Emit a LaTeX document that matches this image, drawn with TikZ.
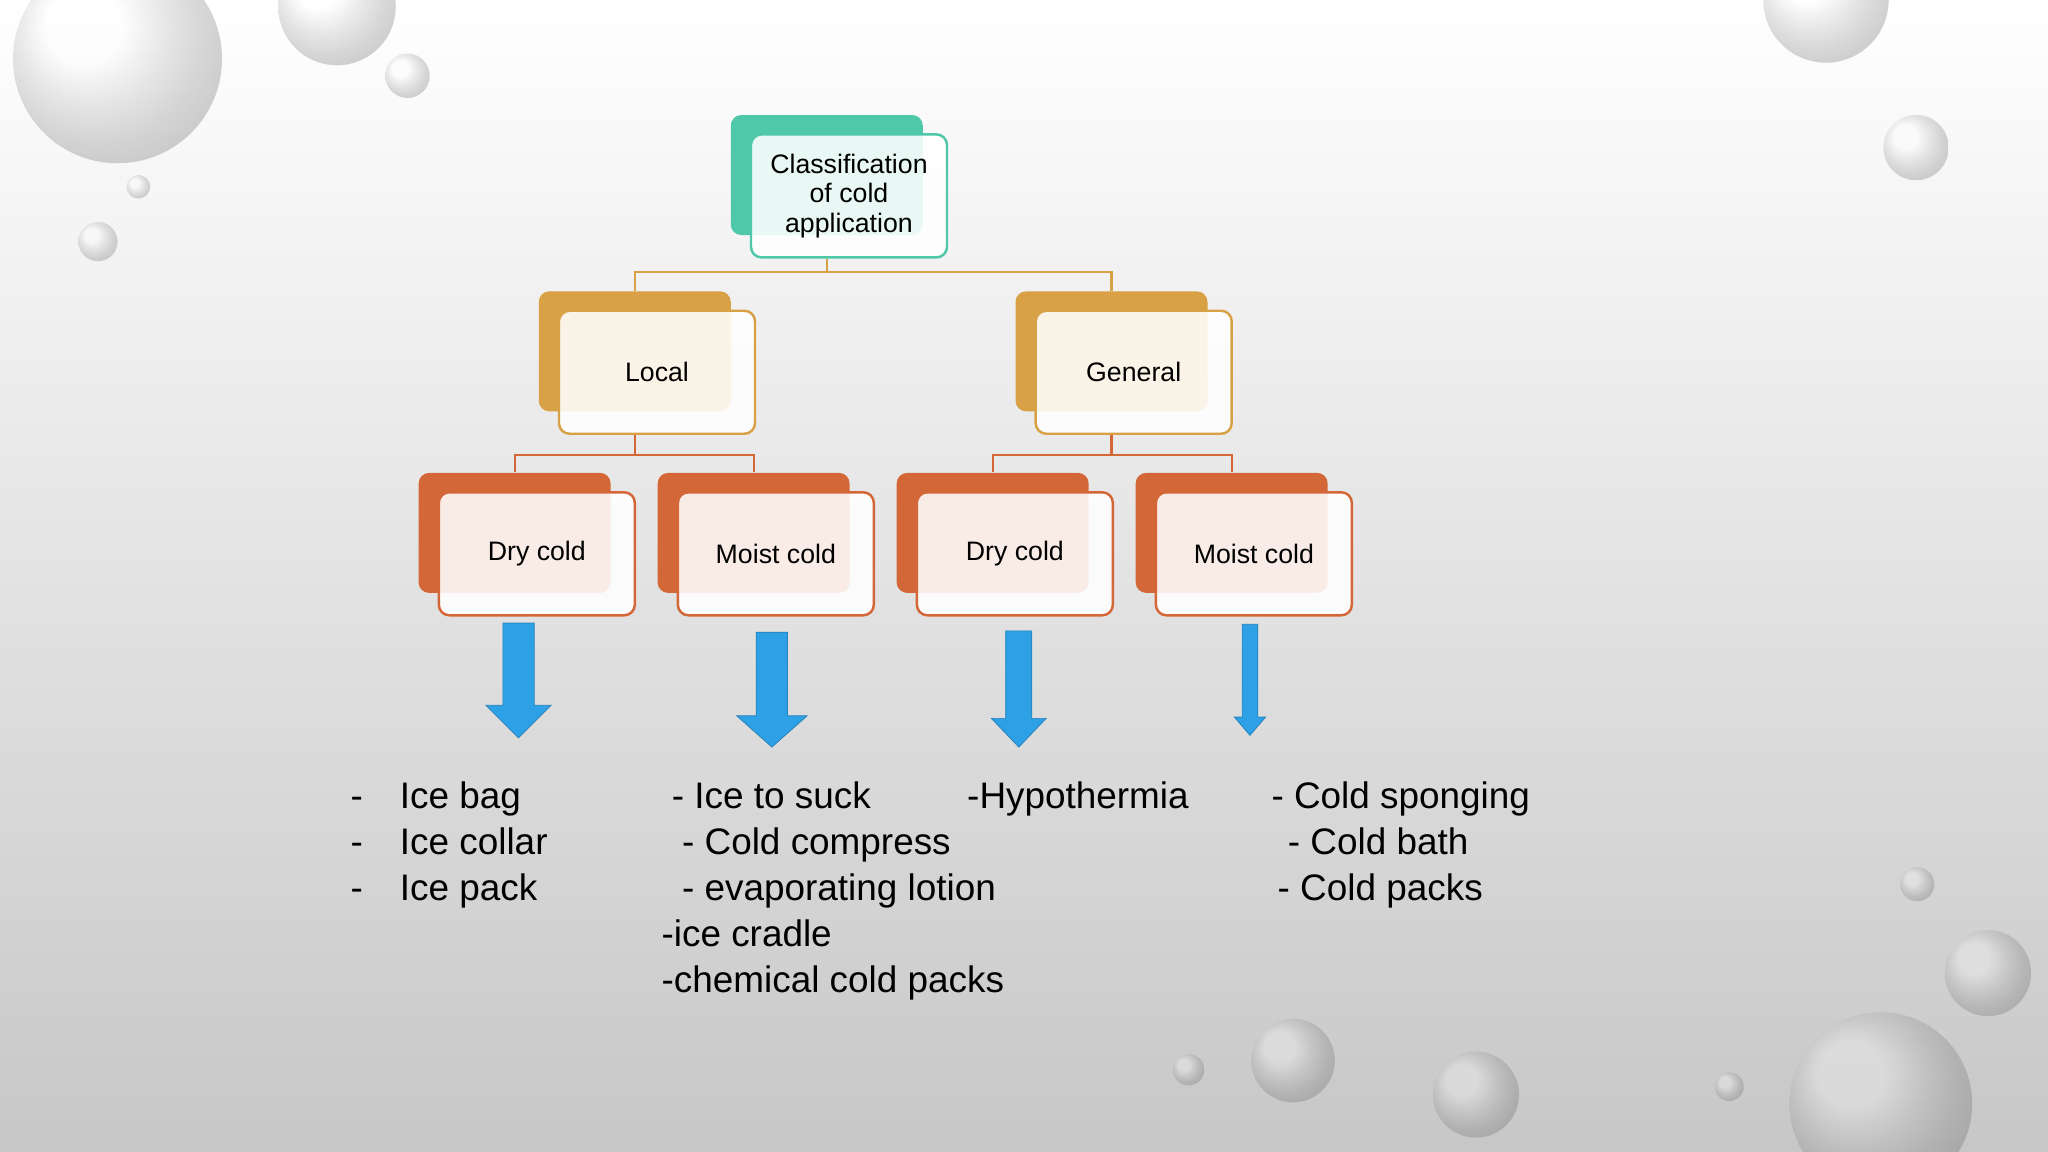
\documentclass[tikz,border=0pt]{standalone}
\usepackage{fontspec}
\setmainfont{Liberation Sans}
\definecolor{teal1}{RGB}{78,200,168}
\definecolor{gold1}{RGB}{216,161,70}
\definecolor{rust1}{RGB}{212,103,55}
\definecolor{arrowblue}{RGB}{45,160,230}
\tikzstyle{back} = [rectangle, rounded corners=3pt, minimum width=1.92cm, minimum height=1.2cm]
\tikzstyle{front} = [rectangle, rounded corners=3pt, minimum width=1.96cm, minimum height=1.23cm, align=center, fill=white, fill opacity=0.88, text opacity=1, line width=0.7pt, font=\fontsize{7.6}{8.4}\selectfont]
\tikzstyle{link} = [line width=0.6pt]
\tikzstyle{down} = [fill=arrowblue, draw=arrowblue!80!black, line width=0.2pt]
\tikzstyle{list} = [anchor=north west, align=left, font=\fontsize{10.5}{13.1}\selectfont, inner sep=0pt]
\begin{document}
\begin{tikzpicture}[x=0.013061cm, y=-0.013061cm]
\shade[top color=white, bottom color=black!22] (0,0) rectangle (1568,882);
\useasboundingbox (0,0) rectangle (1568,882);
% droplets
\foreach \dx/\dy/\dr in {90/45/80, 258/5/45, 312/58/17, 106/143/9, 75/185/15, 1398/0/48, 1467/113/25, 1468/677/13, 1522/745/33, 1440/845/70, 990/812/32, 1130/838/33, 910/819/12, 1324/832/11}
  \shade[ball color=white, opacity=0.3] (\dx,\dy) circle (\dr);

% boxes
\node (rootB) [back, fill=teal1] at (633,134) {};
\node (root) [front, draw=teal1] at (650,150) {Classification\\of cold\\application};
\node (localB) [back, fill=gold1] at (486,269) {};
\node (local) [front, draw=gold1] at (503,285) {Local};
\node (genB) [back, fill=gold1] at (851,269) {};
\node (gen) [front, draw=gold1] at (868,285) {General};
\foreach \nm/\cx/\txt in {ldry/394/Dry cold, lmoist/577/Moist cold, gdry/760/Dry cold, gmoist/943/Moist cold}{
  \node (\nm B) [back, fill=rust1] at (\cx,408) {};
  \node (\nm) [front, draw=rust1] at (\cx+17,424) {\txt};
}

% connectors
\draw [link, gold1] (rootB.south |- root.south) -- ++(0,10) -| (localB.north);
\draw [link, gold1] (rootB.south |- root.south) -- ++(0,10) -| (genB.north);
\draw [link, rust1] (localB.south |- local.south) -- ++(0,15) -| (ldryB.north);
\draw [link, rust1] (localB.south |- local.south) -- ++(0,15) -| (lmoistB.north);
\draw [link, rust1] (genB.south |- gen.south) -- ++(0,15) -| (gdryB.north);
\draw [link, rust1] (genB.south |- gen.south) -- ++(0,15) -| (gmoistB.north);

% arrows: x/top/shaft half/neck/head half/tip
\foreach \ax/\at/\aw/\an/\ah/\ap in {397/477/12/540/25/565, 591/484/12/548/27/572, 780/483/10/550/21/572, 957/478/6/549/12/563}
  \draw [down] (\ax-\aw,\at) -- (\ax+\aw,\at) -- (\ax+\aw,\an) -- (\ax+\ah,\an) -- (\ax,\ap) -- (\ax-\ah,\an) -- (\ax-\aw,\an) -- cycle;

% lists
\node (t1) [list] at (268,598) {-\hspace{1.0em}Ice bag\\-\hspace{1.0em}Ice collar\\-\hspace{1.0em}Ice pack};
\node (t2) [list] at (506,598) {\ - Ice to suck\\\ \ - Cold compress\\\ \ - evaporating lotion\\-ice cradle\\-chemical cold packs};
\node (t3) [list] at (740,598) {-Hypothermia};
\node (t4) [list] at (973,598) {- Cold sponging\\\ \,- Cold bath\\\,- Cold packs};
\end{tikzpicture}
\end{document}
